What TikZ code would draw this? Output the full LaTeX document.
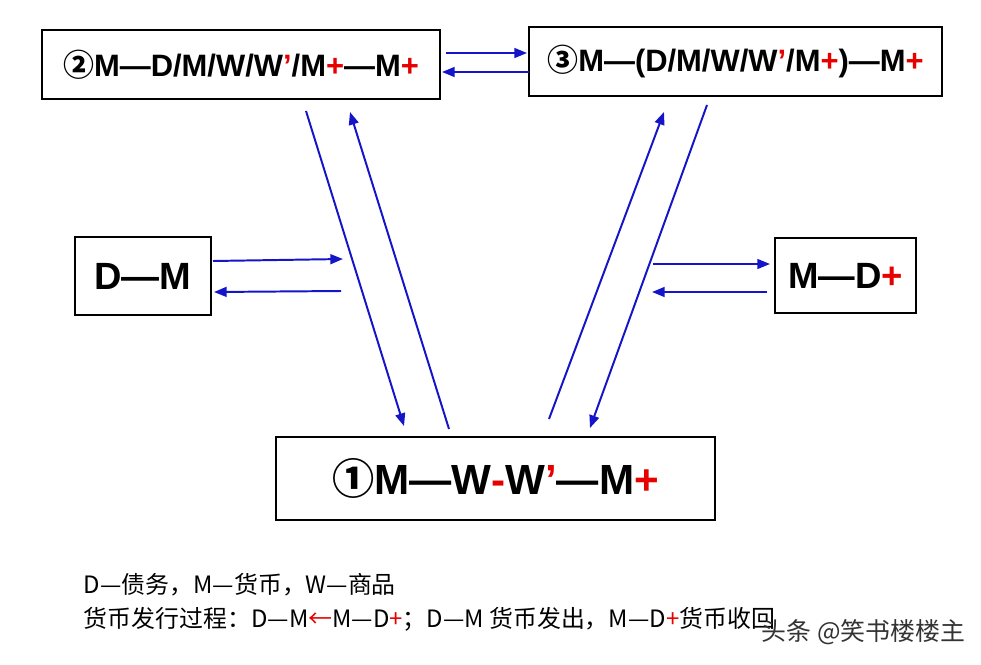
\documentclass[tikz,border=0pt]{standalone}
\usepackage{fontspec}
\setmainfont{Liberation Sans}
\newfontfamily\cjk{Noto Sans CJK SC}
\usetikzlibrary{arrows.meta}
\definecolor{flowblue}{RGB}{20,20,200}
\definecolor{plusred}{RGB}{230,0,0}
\newcommand{\redplus}{\textcolor{plusred}{+}}
\newcommand{\redprime}{\textcolor{plusred}{\symbol{"0027}}}

\begin{document}
\begin{tikzpicture}[x=0.25mm, y=-0.25mm,
    box/.style={draw, line width=1.4pt, inner sep=0pt, font=\bfseries},
    flow/.style={flowblue, line width=1.4pt, -{Triangle[length=9pt,width=7pt]}}]
    \useasboundingbox (0,0) rectangle (981,664);

    % the three circuits and the two money moves
    \node[box, minimum width=99.5mm, minimum height=17.25mm, font=\bfseries\fontsize{22}{24}\selectfont] (two) at (241,64.5)
        {{\cjk ②}M—D/M/W/W\redprime/M\redplus—M\redplus};
    \node[box, minimum width=103.25mm, minimum height=17.25mm, font=\bfseries\fontsize{22}{24}\selectfont] (three) at (735.5,61.5)
        {{\cjk ③}M—(D/M/W/W\redprime/M\redplus)—M\redplus};
    \node[box, minimum width=34mm, minimum height=19.5mm, font=\bfseries\fontsize{27}{30}\selectfont] (dm) at (143,276) {D—M};
    \node[box, minimum width=35.25mm, minimum height=18.75mm, font=\bfseries\fontsize{26}{30}\selectfont] (md) at (845.5,275.5) {M—D\redplus};
    \node[box, minimum width=109.75mm, minimum height=20.75mm, font=\bfseries\fontsize{30}{32}\selectfont] (one) at (495.5,478.5)
        {{\cjk ①}M—W\textcolor{plusred}{-}W\redprime—M\redplus};

    % arrow ends
    \coordinate (t1) at (446,53);  \coordinate (t2) at (527,53);
    \coordinate (t3) at (529,72);  \coordinate (t4) at (442,72);
    \coordinate (l1) at (213,261); \coordinate (l2) at (343,259);
    \coordinate (l3) at (341,291); \coordinate (l4) at (214,292);
    \coordinate (r1) at (653,264); \coordinate (r2) at (770,264);
    \coordinate (r3) at (767,292); \coordinate (r4) at (652,292);
    \coordinate (a1) at (306,111); \coordinate (a2) at (404,426);
    \coordinate (a3) at (449,429); \coordinate (a4) at (350,112);
    \coordinate (b1) at (549,419); \coordinate (b2) at (664,112);
    \coordinate (b3) at (707,105); \coordinate (b4) at (590,428);

    \foreach \s/\e in {t1/t2,t3/t4,l1/l2,l3/l4,r1/r2,r3/r4,a1/a2,a3/a4,b1/b2,b3/b4}
        \draw[flow] (\s) -- (\e);

    % legend
    \node[anchor=west, font=\cjk\fontsize{17}{19}\selectfont] (key) at (79,585)
        {D—债务，M—货币，W—商品};
    \node[anchor=west, font=\cjk\fontsize{17}{19}\selectfont] (issue) at (79,619)
        {货币发行过程：D—M\textcolor{plusred}{←}M—D\redplus；D—M 货币发出，M—D\redplus 货币收回};
    \node[anchor=west, text=black!80, font=\cjk\fontsize{17.7}{19}\selectfont] (mark) at (757,632) {头条 @笑书楼楼主};
\end{tikzpicture}
\end{document}
